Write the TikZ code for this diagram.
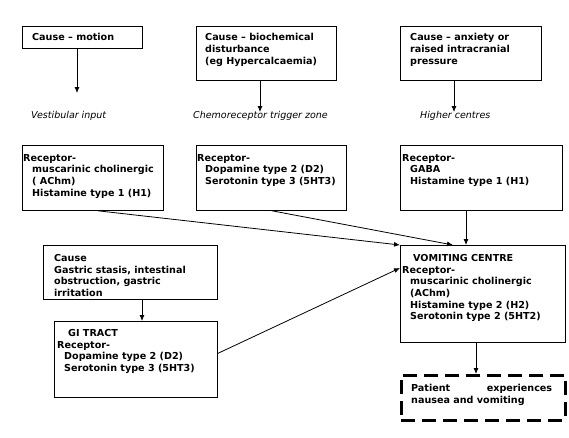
\documentclass[tikz,border=0pt]{standalone}
\usepackage{fontspec}
\setmainfont{DejaVu Sans}
\usetikzlibrary{arrows.meta}
\begin{document}
\begin{tikzpicture}[x=1pt,y=-1pt,
  box/.style={draw, line width=0.8pt, anchor=north west, inner sep=0pt},
  txt/.style={anchor=north west, inner sep=0pt, align=left, font=\fontsize{9.6}{11.7}\selectfont\bfseries},
  lab/.style={anchor=west, inner sep=0pt, font=\fontsize{9.5}{11.7}\selectfont\itshape},
  arr/.style={-{Latex[length=6pt,width=5pt]}, line width=0.8pt}]
\useasboundingbox (0,0) rectangle (569,437);
\fill[white] (0,0) rectangle (569,437);
% boxes
\node[box, minimum width=120pt, minimum height=22pt] (A) at (22,26) {};
\node[box, minimum width=140pt, minimum height=54pt] (B) at (196,26) {};
\node[box, minimum width=141pt, minimum height=54pt] (C) at (400,26) {};
\node[box, minimum width=141pt, minimum height=65pt] (D) at (22,145) {};
\node[box, minimum width=150pt, minimum height=65pt] (E) at (196,145) {};
\node[box, minimum width=162pt, minimum height=65pt] (F) at (400,145) {};
\node[box, minimum width=174pt, minimum height=54pt] (G) at (43,245) {};
\node[box, minimum width=163pt, minimum height=76pt] (H) at (54,321) {};
\node[box, minimum width=165pt, minimum height=97pt] (VC) at (400,245) {};
\node[box, line width=2.5pt, dash pattern=on 14pt off 7pt, minimum width=164pt, minimum height=45pt] (P) at (400,374) {};
% texts
\node[txt] (tA) at (32,33.5) {Cause -- motion};
\node[txt] (tB) at (205,33.5) {Cause -- biochemical\\disturbance\\(eg Hypercalcaemia)};
\node[txt] (tC) at (410,33.5) {Cause -- anxiety or\\raised intracranial\\pressure};
\node[txt] (tD) at (23,154) {Receptor-\\\hspace*{9pt}muscarinic cholinergic\\\hspace*{9pt}( AChm)\\\hspace*{9pt}Histamine type 1 (H1)};
\node[txt] (tE) at (197,154) {Receptor-\\\hspace*{8pt}Dopamine type 2 (D2)\\\hspace*{8pt}Serotonin type 3 (5HT3)};
\node[txt] (tF) at (402,154) {Receptor-\\\hspace*{8pt}GABA\\\hspace*{8pt}Histamine type 1 (H1)};
\node[txt] (tG) at (54,254) {Cause\\Gastric stasis, intestinal\\obstruction, gastric\\irritation};
\node[txt] (tH) at (57,329) {\hspace*{11pt}GI TRACT\\Receptor-\\\hspace*{7pt}Dopamine type 2 (D2)\\\hspace*{7pt}Serotonin type 3 (5HT3)};
\node[txt] (tVC) at (402,254) {\hspace*{11pt}VOMITING CENTRE\\Receptor-\\\hspace*{8pt}muscarinic cholinergic\\\hspace*{8pt}(AChm)\\\hspace*{8pt}Histamine type 2 (H2)\\\hspace*{8pt}Serotonin type 2 (5HT2)};
\node[txt] (tP) at (411,384) {\makebox[141pt][l]{Patient\hfill experiences}\\nausea and vomiting};
% italic labels
\node[lab] (L1) at (31,115.5) {Vestibular input};
\node[lab] (L2) at (193,115.5) {Chemoreceptor trigger zone};
\node[lab] (L3) at (420,115.5) {Higher centres};
% arrows
\coordinate (a1) at (77,93);
\coordinate (a2) at (260,112);
\coordinate (a3) at (454,112);
\draw[arr] (A.south -| a1) -- (a1);
\draw[arr] (B.south -| a2) -- (a2);
\draw[arr] (C.south -| a3) -- (a3);
\draw[arr] ([xshift=76pt]D.south west) -- (VC.north west);
\draw[arr] ([xshift=76pt]E.south west) -- ([xshift=53pt]VC.north west);
\draw[arr] ([xshift=66pt]F.south west) -- ([xshift=66pt]VC.north west);
\draw[arr] ([xshift=99pt]G.south west) -- ([xshift=88pt]H.north west);
\draw[arr] ([yshift=6pt]H.east) -- ([yshift=-23pt]VC.north west);
\draw[arr] ([xshift=76pt]VC.south west) -- ([xshift=76pt]P.north west);
\end{tikzpicture}
\end{document}
